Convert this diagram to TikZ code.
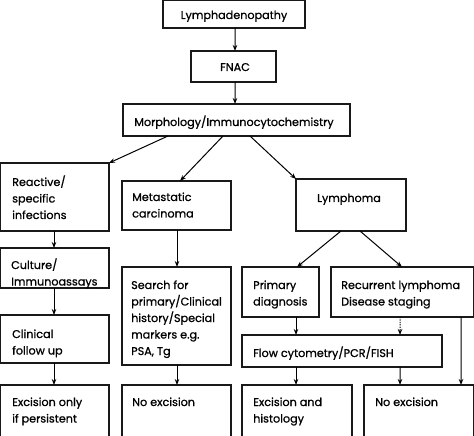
\documentclass[tikz,border=0pt]{standalone}
\usepackage{fontspec}
\setmainfont{Poppins}[FakeBold=0.8]
\usetikzlibrary{arrows.meta,calc}
\newcommand\fs{\fontsize{11.2bp}{16.5bp}\selectfont}
\newcommand\tb[1]{\parbox[t]{140bp}{\raggedright #1}}
\begin{document}
\begin{tikzpicture}[x=1bp,y=-1bp,
  bx/.style={draw=black!90, line width=1.2bp, fill=white, inner sep=0pt, outer sep=0pt, anchor=north west},
  txt/.style={anchor=base west, inner sep=0pt, font=\fs, text=black},
  ctxt/.style={anchor=base, inner sep=0pt, font=\fs, text=black},
  arr/.style={draw=black, line width=1bp, -{Stealth[length=6bp,width=4.5bp]}},
  darr/.style={arr, dash pattern=on 1.2bp off 1.2bp}]
\useasboundingbox[fill=white] (0,0) rectangle (474,436);
% boxes
\node[bx, minimum width=142bp, minimum height=28bp] (lymph) at (163,0) {};
\node[bx, minimum width=85bp, minimum height=31bp] (fnac) at (191,51) {};
\node[bx, minimum width=227bp, minimum height=32bp] (morph) at (123,104) {};
\node[bx, minimum width=109bp, minimum height=68bp] (react) at (0,163) {};
\node[bx, minimum width=109bp, minimum height=49bp] (meta) at (122,181) {};
\node[bx, minimum width=110bp, minimum height=52bp] (lyma) at (296,179) {};
\node[bx, minimum width=109bp, minimum height=40bp] (cult) at (0,248) {};
\node[bx, minimum width=109bp, minimum height=98bp] (search) at (122,267) {};
\node[bx, minimum width=77bp, minimum height=50bp] (prim) at (242,267) {};
\node[bx, minimum width=143bp, minimum height=50bp] (recur) at (331,267) {};
\node[bx, minimum width=109bp, minimum height=48bp] (clin) at (0,315) {};
\node[bx, minimum width=200bp, minimum height=32bp] (flow) at (242,335) {};
\node[bx, minimum width=109bp, minimum height=52bp] (exonly) at (0,385) {};
\node[bx, minimum width=109bp, minimum height=52bp] (noexa) at (122,385) {};
\node[bx, minimum width=110bp, minimum height=52bp] (exhist) at (242,385) {};
\node[bx, minimum width=110bp, minimum height=52bp] (noexb) at (364,385) {};
% texts
\node[ctxt] (tlymph) at (234,19) {Lymphadenopathy};
\node[ctxt] (tfnac) at (235,71) {FNAC};
\node[ctxt] (tmorph) at (234,126) {Morphology/Immunocytochemistry};
\node[txt] (treact) at (12,186) {\tb{Reactive/\\specific\\infections}};
\node[txt] (tmeta) at (132,201) {\tb{Metastatic\\carcinoma}};
\node[ctxt] (tlyma) at (349,202) {Lymphoma};
\node[txt] (tcult) at (11,269) {\tb{Culture/\\Immunoassays}};
\node[txt] (tsearch) at (131,289) {\tb{Search for\\primary/Clinical\\history/Special\\markers e.g.\\PSA, Tg}};
\node[txt] (tprim) at (253,289) {\tb{Primary\\diagnosis}};
\node[txt] (trecur) at (341,289) {\tb{Recurrent lymphoma\\Disease staging}};
\node[txt] (tclin) at (12,338) {\tb{Clinical\\follow up}};
\node[txt] (tflow) at (253,357) {Flow cytometry/PCR/FISH};
\node[txt] (texonly) at (12,406) {\tb{Excision only\\if persistent}};
\node[txt] (tnoexa) at (132,406) {No excision};
\node[txt] (texhist) at (253,406) {\tb{Excision and\\histology}};
\node[txt] (tnoexb) at (375,406) {No excision};
% connectors
\draw[arr] ([xshift=72bp]lymph.south west) -- ([xshift=44bp]fnac.north west);
\draw[arr] ([xshift=44bp]fnac.south west) -- ([xshift=112bp]morph.north west);
\draw[arr] ([xshift=45bp]morph.south west) -- (react.north east);
\draw[arr] ([xshift=100bp]morph.south west) -- ([xshift=58bp]meta.north west);
\draw[arr] ([xshift=127bp]morph.south west) -- (lyma.north west);
\draw[arr] ([xshift=45bp]lyma.south west) -- ([xshift=55bp]prim.north west);
\draw[arr] ([xshift=64bp]lyma.south west) -- ([xshift=71bp]recur.north west);
\draw[arr] ([xshift=54bp]react.south west) -- ([xshift=54bp]cult.north west);
\draw[arr] ([xshift=54bp]cult.south west) -- ([xshift=54bp]clin.north west);
\draw[arr] ([xshift=54bp]clin.south west) -- ([xshift=54bp]exonly.north west);
\draw[arr] ([xshift=55bp]meta.south west) -- ([xshift=55bp]search.north west);
\draw[arr] ([xshift=55bp]search.south west) -- ([xshift=55bp]noexa.north west);
\draw[arr] ([xshift=54bp]prim.south west) -- ([xshift=54bp]flow.north west);
\draw[darr] ([xshift=69bp]recur.south west) -- ([xshift=158bp]flow.north west);
\draw[arr] ([xshift=54bp]flow.south west) -- ([xshift=54bp]exhist.north west);
\draw[arr] ([xshift=158bp]flow.south west) -- ([xshift=36bp]noexb.north west);
\draw[arr] ([xshift=130bp]recur.south west) -- ([xshift=97bp]noexb.north west);
\end{tikzpicture}
\end{document}
